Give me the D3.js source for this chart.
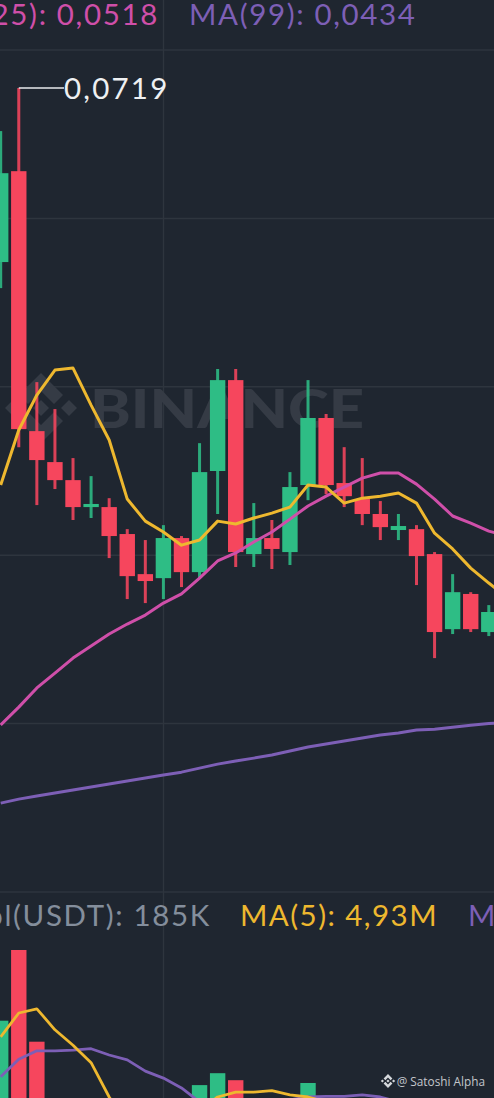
<!DOCTYPE html>
<html><head><meta charset="utf-8">
<script src="https://cdnjs.cloudflare.com/ajax/libs/d3/7.8.5/d3.min.js"></script>
<style>html,body{margin:0;padding:0;background:#1f2630;overflow:hidden}svg{display:block}</style>
</head><body><svg id="c" width="494" height="1098"></svg>
<script>
// prices are in units of 0.0001
const opens  = [640.8,681.6,564.9,551.0,542.9,530.8,530.8,518.7,500.7,498.9,516.9,501.6,547.0,587.8,509.7,516.9,510.6,540.7,570.8,541.6,534.4,527.7,520.5,520.9,509.7,476.0,491.8,474.7];
const closes = [680.7,565.8,551.9,542.9,530.8,532.2,517.8,499.8,497.6,516.9,501.6,546.5,587.8,510.6,516.9,512.0,539.8,570.8,540.7,535.7,527.7,521.8,522.3,508.8,474.7,492.6,476.0,483.7];
const highs  = [699.6,718.9,586.9,574.8,552.8,544.7,534.8,520.9,516.0,522.7,517.8,559.5,592.8,592.8,532.6,525.0,546.5,587.8,572.6,557.7,552.8,533.5,527.7,522.7,510.6,500.7,492.6,486.8];
const lows   = [629.1,557.7,531.7,538.9,525.0,525.9,507.9,489.5,487.7,489.5,494.9,498.9,527.7,503.9,503.9,503.0,504.8,533.9,536.6,530.8,522.7,516.0,516.0,495.8,463.0,473.8,474.7,472.9];
const ma7  = [540.7,565.4,581.1,592.3,593.2,576.6,560.9,534.4,524.5,519.6,513.7,516.0,524.5,523.2,525.9,528.1,530.8,540.7,539.8,532.6,534.8,535.7,537.1,532.6,519.1,512.0,503.4,496.7,490.4];
const ma25 = [433.0,441.0,449.6,456.3,463.0,468.4,473.8,478.3,482.3,487.7,491.8,498.9,506.6,510.2,515.1,519.6,525.4,531.3,535.7,539.8,543.8,546.1,546.1,541.1,534.4,526.8,523.6,520.0,517.8];
const ma99 = [397.9,399.7,401.1,402.4,403.8,405.1,406.5,407.8,409.2,410.5,411.8,413.6,415.4,416.8,418.1,419.5,421.3,423.1,424.4,425.8,427.1,428.5,429.4,430.7,431.1,432.0,432.9,433.6,434.3];
const gridPrices = [736,660.4,584.8,509.2,433.6,358];
const highLabel = "0,0719", highIndex = 1;
// volume in millions; null = below the visible part of the picture
const volumes = [29.9,40.0,26.9,null,null,null,null,null,null,null,null,20.7,22.4,21.4,null,null,null,21.0];
const volMa5  = [27.6,31.0,31.6,28.6,26.4,23.9,19.0,15.0,null,null,null,17.1,19.0,19.7,19.7,19.9,19.3,19.0,18.3];
const volMa10 = [21.9,24.4,25.6,25.6,25.7,25.9,25.0,24.3,22.7,21.7,20.3,18.3,null,null,null,null,18.6,19.0,19.1,19.1,19.3,19.0,18.3];

const BG="#1f2630",GRID="#2e353e",GREEN="#2ebd85",RED="#f6465d",YEL="#eeb82f",PINK="#cf4fa9",PUR="#7d5fb6";
const svg=d3.select("#c");
svg.append("rect").attr("width",494).attr("height",1098).attr("fill",BG);
const x=d3.scaleLinear().domain([0,27]).range([0.7,488.8]);
const y=d3.scaleLinear().domain([736,358]).range([50,892]);
const yv=d3.scaleLinear().domain([0,40]).range([1230,950]);
const cw=15.4;

// grid
svg.append("g").selectAll("line").data(gridPrices).join("line")
 .attr("x1",0).attr("x2",494).attr("y1",d=>y(d)).attr("y2",d=>y(d)).attr("stroke",GRID).attr("stroke-width",1.5);
svg.append("line").attr("x1",163.5).attr("x2",163.5).attr("y1",0).attr("y2",1098).attr("stroke",GRID).attr("stroke-width",1.4);

// watermark
const logo=[[[41,373],[63,395],[54,404],[41,391],[28,404],[19,395]],
 [[41,443],[63,421],[54,412],[41,425],[28,412],[19,421]],
 [[41,400],[49,408],[41,416],[33,408]],
 [[13,400],[21,408],[13,416],[5,408]],
 [[69,400],[77,408],[69,416],[61,408]]];
const wm=svg.append("g").attr("fill","#353b45");
logo.forEach(p=>wm.append("polygon").attr("points",p.join(" ")));
wm.append("text").attr("x",90).attr("y",428).attr("font-family","Lato").attr("font-weight",900).attr("font-size",54).attr("textLength",274).attr("lengthAdjust","spacingAndGlyphs").text("BINANCE");

// candles
const idx=d3.range(opens.length);
const col=i=>closes[i]>=opens[i]?GREEN:RED;
const g=svg.append("g");
g.selectAll("line.w").data(idx).join("line").attr("class","w")
 .attr("x1",i=>x(i)).attr("x2",i=>x(i)).attr("y1",i=>y(highs[i])).attr("y2",i=>y(lows[i]))
 .attr("stroke",col).attr("stroke-width",3).attr("stroke-opacity",.88);
g.selectAll("rect").data(idx).join("rect")
 .attr("x",i=>x(i)-cw/2).attr("width",cw)
 .attr("y",i=>y(Math.max(opens[i],closes[i])))
 .attr("height",i=>Math.abs(y(opens[i])-y(closes[i])))
 .attr("fill",col);

// high marker
svg.append("path").attr("fill","none").attr("stroke","#e8eaec").attr("stroke-width",1.5)
 .attr("d",d3.line()([[x(highIndex),y(highs[highIndex])],[64,y(highs[highIndex])]]));
const T=(xp,yp,s,c,a,fs,f,ls)=>svg.append("text").attr("x",xp).attr("y",yp).attr("fill",c).attr("text-anchor",a||"start")
  .attr("font-family",f||"Lato").attr("font-size",fs||29.5).attr("letter-spacing",ls==null?1.65:ls).text(s);
T(64,99,highLabel,"#eef0f2","start",29.5,"Lato",2.2);

// MA lines
const ln=(arr,sc,c,w)=>svg.append("path").attr("fill","none").attr("stroke",c).attr("stroke-width",w).attr("stroke-linejoin","round")
 .attr("d",d3.line().defined(d=>d!=null).x((d,i)=>x(i)).y(d=>sc(d))(arr));
ln(ma99,y,PUR,3); ln(ma25,y,PINK,3); ln(ma7,y,YEL,3);

// volume
const vg=svg.append("g");
vg.selectAll("rect").data(volumes.map((v,i)=>({v,i})).filter(d=>d.v!=null)).join("rect")
 .attr("x",d=>x(d.i)-cw/2).attr("width",cw).attr("y",d=>yv(d.v)).attr("height",d=>yv(0)-yv(d.v))
 .attr("fill",d=>col(d.i));
ln(volMa10,yv,PUR,2.8); ln(volMa5,yv,YEL,2.8);

// legends
T(159,25,"MA(25): 0,0518",PINK,"end");
T(189,25,"MA(99): 0,0434",PUR);
T(211,926,"Vol(USDT): 185K","#848e9c","end");
T(240,926,"MA(5): 4,93M",YEL,"start",29.5,"Lato",1.45);
T(468,926,"MA(10)",PUR);

// credit
const icon=svg.append("g").attr("fill","#d5d8dc").attr("transform","translate(388,1081) scale(0.2) translate(-41,-408)");
logo.forEach(p=>icon.append("polygon").attr("points",p.join(" ")));
T(485,1085.5,"@ Satoshi Alpha","#c3c7cc","end",11.8,"Open Sans",0);
</script></body></html>
